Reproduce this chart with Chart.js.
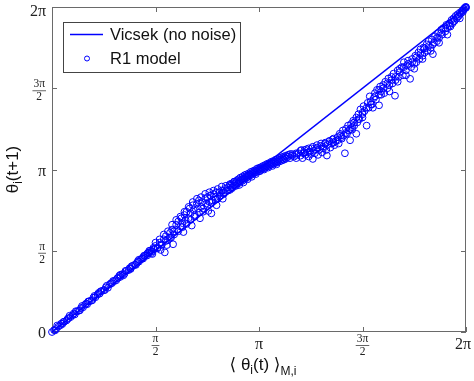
<!DOCTYPE html>
<html>
<head>
<meta charset="utf-8">
<script src="https://cdn.jsdelivr.net/npm/chart.js@4.4.1/dist/chart.umd.min.js"></script>
<style>
  html, body { margin: 0; padding: 0; background: #fff; }
  canvas { display: block; }
</style>
</head>
<body>
<canvas id="mapChart" width="474" height="381"></canvas>
<script>
// all angles are in units of pi (0..2 means 0..2pi)
const tickValues = [0, 0.5, 1, 1.5, 2];
const tickNums = ['0', 'π', 'π', '3π', '2π'];
const tickDens = ['', '2', '', '2', ''];

const vicsekX = [0, 2];
const vicsekY = [0, 2];

const r1X = [
    0.00,0.01,0.02,0.03,0.04,0.05,0.06,0.07,0.08,0.09,
    0.10,0.11,0.12,0.13,0.14,0.15,0.16,0.17,0.18,0.19,
    0.20,0.21,0.22,0.23,0.24,0.25,0.26,0.27,0.28,0.29,
    0.30,0.31,0.32,0.33,0.34,0.35,0.36,0.37,0.38,0.39,
    0.40,0.41,0.42,0.43,0.44,0.45,0.46,0.47,0.48,0.49,
    0.015,0.045,0.075,0.105,0.135,0.165,0.195,0.225,0.255,0.285,
    0.315,0.345,0.375,0.405,0.435,0.465,0.495,0.33,0.44,0.48,
    0.025,0.055,0.085,0.115,0.145,0.175,0.205,0.235,0.265,0.295,
    0.325,0.355,0.385,0.415,0.445,0.475,0.38,0.42,0.46,0.49,
    0.50,0.51,0.52,0.53,0.54,0.545,0.55,0.56,0.57,0.575,
    0.58,0.585,0.59,0.60,0.605,0.61,0.62,0.625,0.63,0.64,
    0.645,0.65,0.66,0.665,0.67,0.68,0.685,0.69,0.70,0.705,
    0.71,0.72,0.725,0.73,0.74,0.745,0.75,0.76,0.765,0.77,
    0.775,0.78,0.79,0.795,0.80,0.81,0.815,0.82,0.83,0.835,
    0.84,0.85,0.86,0.865,0.87,0.88,0.885,0.89,0.90,0.905,
    0.50,0.52,0.54,0.56,0.58,0.60,0.62,0.64,0.66,0.68,
    0.70,0.72,0.74,0.76,0.78,0.80,0.82,0.84,0.86,0.88,
    0.51,0.53,0.55,0.57,0.59,0.61,0.63,0.65,0.67,0.69,
    0.71,0.73,0.75,0.77,0.79,0.81,0.83,0.85,0.87,0.89,
    0.47,0.485,0.525,0.555,0.635,0.675,0.715,0.755,0.795,0.825,
    0.91,0.915,0.92,0.925,0.93,0.935,0.94,0.945,0.95,0.955,
    0.96,0.965,0.97,0.975,0.98,0.985,0.99,0.995,1.00,1.005,
    1.01,1.015,1.02,1.025,1.03,1.035,1.04,1.045,1.05,1.055,
    1.06,1.065,1.07,1.075,1.08,1.085,1.09,1.095,1.10,1.105,
    1.11,1.115,1.12,1.125,1.13,1.14,1.15,1.16,1.17,1.18,
    0.86,0.87,0.88,0.89,0.90,0.91,0.92,0.93,0.94,0.95,
    0.96,0.97,0.98,0.99,1.00,1.01,1.02,1.03,1.04,1.05,
    1.06,1.07,1.08,1.09,1.10,1.11,1.12,1.13,1.14,1.15,
    0.905,0.925,0.945,0.965,0.985,1.005,1.025,1.045,1.065,1.085,
    1.18,1.19,1.20,1.205,1.21,1.22,1.225,1.23,1.24,1.245,
    1.25,1.255,1.26,1.265,1.27,1.28,1.285,1.29,1.30,1.305,
    1.31,1.32,1.325,1.328,1.33,1.34,1.345,1.35,1.36,1.365,
    1.37,1.38,1.385,1.39,1.40,1.405,1.41,1.415,1.42,1.425,
    1.43,1.435,1.44,1.445,1.45,1.455,1.46,1.47,1.475,1.48,
    1.485,1.49,1.50,1.505,1.51,1.52,1.525,1.53,1.535,1.54,
    1.55,1.555,1.56,1.565,1.57,1.58,1.585,1.59,1.60,1.605,
    1.61,1.62,1.625,1.63,1.64,1.645,1.65,1.657,1.66,1.67,
    1.675,1.68,1.69,1.695,1.70,1.71,1.715,1.72,1.73,1.735,
    1.74,1.75,1.755,1.76,1.77,1.775,1.78,1.79,1.795,1.80,
    1.81,1.815,1.82,1.83,1.835,1.84,1.845,1.85,1.86,1.865,
    1.87,1.88,1.885,1.89,1.90,1.905,1.91,1.92,1.925,1.93,
    1.935,1.94,1.945,1.95,1.955,1.96,1.965,1.97,1.975,1.98,
    1.985,1.99,1.995,2.00,1.97,1.99,1.998,2.00,1.96,1.985,
    1.16,1.18,1.20,1.22,1.24,1.26,1.28,1.30,1.32,1.34,
    1.36,1.38,1.40,1.42,1.44,1.46,1.48,1.50,1.52,1.54,
    1.56,1.58,1.60,1.62,1.64,1.66,1.68,1.70,1.72,1.74,
    1.76,1.78,1.80,1.82,1.84,1.86,1.88,1.90,1.92,1.94,
    1.215,1.235,1.275,1.31,1.355,1.395,1.45,1.50,1.545,1.59,
    1.63,1.67,1.71,1.75,1.79,1.83,1.87,1.91,1.47,1.58
];

const r1Y = [
    0.00,0.012,0.018,0.033,0.041,0.049,0.064,0.071,0.085,0.092,
    0.104,0.108,0.126,0.131,0.147,0.152,0.168,0.171,0.189,0.193,
    0.212,0.214,0.231,0.236,0.252,0.257,0.275,0.272,0.294,0.301,
    0.313,0.318,0.334,0.339,0.356,0.358,0.377,0.381,0.392,0.407,
    0.414,0.425,0.433,0.447,0.452,0.468,0.471,0.489,0.494,0.508,
    0.010,0.052,0.080,0.114,0.134,0.175,0.196,0.240,0.258,0.300,
    0.330,0.349,0.393,0.413,0.452,0.488,0.51,0.352,0.46,0.485,
    0.040,0.062,0.100,0.128,0.160,0.188,0.222,0.250,0.285,0.314,
    0.346,0.376,0.405,0.436,0.470,0.500,0.388,0.445,0.482,0.518,
    0.53,0.515,0.55,0.54,0.57,0.49,0.59,0.565,0.61,0.58,
    0.63,0.54,0.62,0.66,0.63,0.68,0.65,0.70,0.67,0.72,
    0.69,0.74,0.70,0.76,0.73,0.78,0.75,0.72,0.79,0.76,
    0.81,0.77,0.80,0.74,0.82,0.79,0.83,0.80,0.84,0.73,
    0.81,0.85,0.83,0.86,0.82,0.86,0.84,0.87,0.85,0.88,
    0.87,0.89,0.875,0.90,0.89,0.91,0.90,0.92,0.915,0.93,
    0.55,0.57,0.60,0.62,0.66,0.69,0.71,0.74,0.77,0.80,
    0.82,0.83,0.85,0.86,0.87,0.88,0.895,0.90,0.91,0.925,
    0.52,0.535,0.56,0.58,0.60,0.62,0.645,0.665,0.69,0.71,
    0.735,0.76,0.775,0.795,0.815,0.835,0.855,0.87,0.885,0.90,
    0.50,0.48,0.505,0.535,0.615,0.655,0.70,0.745,0.78,0.82,
    0.925,0.94,0.93,0.945,0.94,0.955,0.948,0.962,0.958,0.97,
    0.965,0.978,0.972,0.985,0.98,0.992,0.985,0.998,0.99,1.003,
    0.998,1.008,1.004,1.015,1.01,1.02,1.018,1.03,1.022,1.034,
    1.03,1.04,1.035,1.047,1.04,1.05,1.045,1.058,1.05,1.062,
    1.055,1.065,1.06,1.072,1.066,1.078,1.07,1.085,1.08,1.09,
    0.905,0.915,0.925,0.93,0.94,0.95,0.955,0.965,0.97,0.975,
    0.985,0.99,0.995,1.005,1.01,1.015,1.022,1.028,1.035,1.04,
    1.048,1.052,1.06,1.064,1.07,1.075,1.08,1.085,1.09,1.095,
    0.905,0.92,0.94,0.955,0.972,0.99,1.0,1.012,1.022,1.032,
    1.07,1.10,1.085,1.12,1.07,1.105,1.09,1.125,1.08,1.11,
    1.095,1.13,1.065,1.115,1.10,1.135,1.09,1.12,1.145,1.105,
    1.13,1.16,1.12,1.086,1.15,1.175,1.135,1.16,1.19,1.15,
    1.175,1.20,1.16,1.22,1.19,1.24,1.21,1.10,1.25,1.22,
    1.27,1.24,1.18,1.28,1.26,1.30,1.27,1.32,1.29,1.34,
    1.31,1.37,1.34,1.39,1.36,1.27,1.41,1.38,1.45,1.40,
    1.38,1.44,1.47,1.43,1.49,1.46,1.51,1.48,1.52,1.47,
    1.54,1.50,1.56,1.52,1.57,1.53,1.59,1.454,1.55,1.61,
    1.57,1.60,1.63,1.58,1.66,1.61,1.64,1.67,1.558,1.63,
    1.68,1.65,1.70,1.66,1.72,1.68,1.74,1.70,1.75,1.72,
    1.77,1.73,1.79,1.75,1.80,1.71,1.78,1.82,1.79,1.84,
    1.81,1.86,1.83,1.87,1.85,1.89,1.87,1.90,1.88,1.92,
    1.90,1.93,1.915,1.945,1.93,1.955,1.945,1.965,1.96,1.975,
    1.98,1.99,1.995,2.00,1.93,1.985,2.00,1.995,1.94,1.97,
    1.095,1.10,1.115,1.12,1.13,1.14,1.15,1.16,1.165,1.175,
    1.165,1.18,1.20,1.225,1.25,1.29,1.31,1.35,1.38,1.42,
    1.45,1.49,1.50,1.53,1.55,1.57,1.62,1.63,1.65,1.66,
    1.69,1.71,1.745,1.76,1.77,1.81,1.84,1.87,1.885,1.91,
    1.10,1.105,1.125,1.14,1.185,1.21,1.245,1.32,1.40,1.46,
    1.48,1.54,1.58,1.62,1.68,1.73,1.78,1.83,1.22,1.395
];

const BLUE = '#0000ff';
const FRAME = '#6a6a6a';
const SANS = '"Liberation Sans", "DejaVu Sans", sans-serif';
const SERIF = '"Liberation Serif", "DejaVu Serif", serif';

// draws runs of text like [['θ', 17, 0], ['i', 12, 5]] centred on (cx, cy)
function drawRuns(ctx, runs, cx, cy) {
    let total = 0;
    runs.forEach(r => {
        ctx.font = `${r[1]}px ${SANS}`;
        total += ctx.measureText(r[0]).width;
    });
    let x = cx - total / 2;
    ctx.textAlign = 'left';
    ctx.textBaseline = 'middle';
    runs.forEach(r => {
        ctx.font = `${r[1]}px ${SANS}`;
        ctx.fillText(r[0], x, cy + r[2]);
        x += ctx.measureText(r[0]).width;
    });
}

function drawTickLabel(ctx, i, cx, cy, align) {
    ctx.fillStyle = '#222';
    ctx.textBaseline = 'middle';
    if (tickDens[i] === '') {
        ctx.font = `16px ${SERIF}`;
        ctx.textAlign = align;
        ctx.fillText(tickNums[i], cx, cy);
        return;
    }
    ctx.font = `11.5px ${SERIF}`;
    const w = ctx.measureText(tickNums[i]).width + 2;
    const mid = align === 'right' ? cx - w / 2 : cx;
    ctx.textAlign = 'center';
    ctx.fillText(tickNums[i], mid, cy - 6);
    ctx.fillText(tickDens[i], mid, cy + 7);
    ctx.strokeStyle = '#222';
    ctx.lineWidth = 0.7;
    ctx.beginPath();
    ctx.moveTo(mid - w / 2, cy + 0.5);
    ctx.lineTo(mid + w / 2, cy + 0.5);
    ctx.stroke();
}

const axesPlugin = {
    id: 'axesPlugin',
    beforeDatasetsDraw(chart) {
        const { ctx, chartArea: a, scales: { x, y } } = chart;
        ctx.save();
        ctx.strokeStyle = FRAME;
        ctx.lineWidth = 1;
        ctx.strokeRect(a.left + 0.5, a.top + 0.5, a.right - a.left - 1, a.bottom - a.top - 1);
        ctx.beginPath();
        tickValues.forEach(v => {
            const px = Math.round(x.getPixelForValue(v)) + 0.5;
            const py = Math.round(y.getPixelForValue(v)) + 0.5;
            ctx.moveTo(px, a.bottom); ctx.lineTo(px, a.bottom - 5);
            ctx.moveTo(px, a.top); ctx.lineTo(px, a.top + 5);
            ctx.moveTo(a.left, py); ctx.lineTo(a.left + 5, py);
            ctx.moveTo(a.right, py); ctx.lineTo(a.right - 5, py);
        });
        ctx.stroke();
        ctx.restore();
    },
    afterDraw(chart) {
        const { ctx, chartArea: a, scales: { x, y } } = chart;
        ctx.save();
        tickValues.forEach((v, i) => {
            drawTickLabel(ctx, i, a.left - 6, Math.max(y.getPixelForValue(v) + 2, 12), 'right');
            if (v > 0) drawTickLabel(ctx, i, Math.min(x.getPixelForValue(v), a.right - 3), a.bottom + 13, 'center');
        });

        // axis titles
        ctx.fillStyle = '#111';
        drawRuns(ctx, [['⟨ θ', 17, 0], ['i', 12, 6], ['(t) ⟩', 17, 0], ['M,i', 12, 7]],
            (a.left + a.right) / 2 + 4, a.bottom + 33);
        ctx.translate(13, (a.top + a.bottom) / 2);
        ctx.rotate(-Math.PI / 2);
        drawRuns(ctx, [['θ', 17, 0], ['i', 12, 6], ['(t+1)', 17, 0]], 0, 0);
        ctx.restore();
    },
    afterDatasetsDraw(chart) {
        // boxed legend in the upper left corner
        const { ctx, chartArea: a } = chart;
        const left = a.left + 11, top = a.top + 15;
        ctx.save();
        ctx.fillStyle = '#fff';
        ctx.fillRect(left, top, 177, 50);
        ctx.strokeStyle = '#444';
        ctx.lineWidth = 1;
        ctx.strokeRect(left + 0.5, top + 0.5, 177, 50);
        ctx.strokeStyle = BLUE;
        ctx.lineWidth = 1.3;
        ctx.beginPath();
        ctx.moveTo(left + 7, top + 12.5);
        ctx.lineTo(left + 40, top + 12.5);
        ctx.stroke();
        ctx.lineWidth = 1;
        ctx.beginPath();
        ctx.arc(left + 24, top + 36.5, 2.5, 0, Math.PI * 2);
        ctx.stroke();
        ctx.fillStyle = '#111';
        ctx.font = `16.5px ${SANS}`;
        ctx.textAlign = 'left';
        ctx.textBaseline = 'middle';
        ctx.fillText('Vicsek (no noise)', left + 47, top + 13);
        ctx.fillText('R1 model', left + 47, top + 37);
        ctx.restore();
    }
};

new Chart(document.getElementById('mapChart').getContext('2d'), {
    type: 'scatter',
    data: {
        datasets: [{
            label: 'Vicsek (no noise)',
            data: vicsekX.map((v, i) => ({ x: v, y: vicsekY[i] })),
            showLine: true,
            borderColor: BLUE,
            borderWidth: 1.4,
            pointRadius: 0
        }, {
            label: 'R1 model',
            data: r1X.map((v, i) => ({ x: v, y: r1Y[i] })),
            pointRadius: 3.4,
            pointBorderWidth: 1,
            borderColor: BLUE,
            backgroundColor: 'rgba(0,0,0,0)',
            clip: false
        }]
    },
    options: {
        responsive: false,
        animation: false,
        layout: { padding: { top: 7, right: 8, left: 0, bottom: 0 } },
        plugins: {
            legend: { display: false },
            tooltip: { enabled: false }
        },
        scales: {
            x: {
                type: 'linear', min: 0, max: 2,
                ticks: { display: false },
                grid: { display: false },
                border: { display: false },
                afterFit(s) { s.height = 49; }
            },
            y: {
                type: 'linear', min: 0, max: 2,
                ticks: { display: false },
                grid: { display: false },
                border: { display: false },
                afterFit(s) { s.width = 52; }
            }
        }
    },
    plugins: [axesPlugin]
});
</script>
</body>
</html>
